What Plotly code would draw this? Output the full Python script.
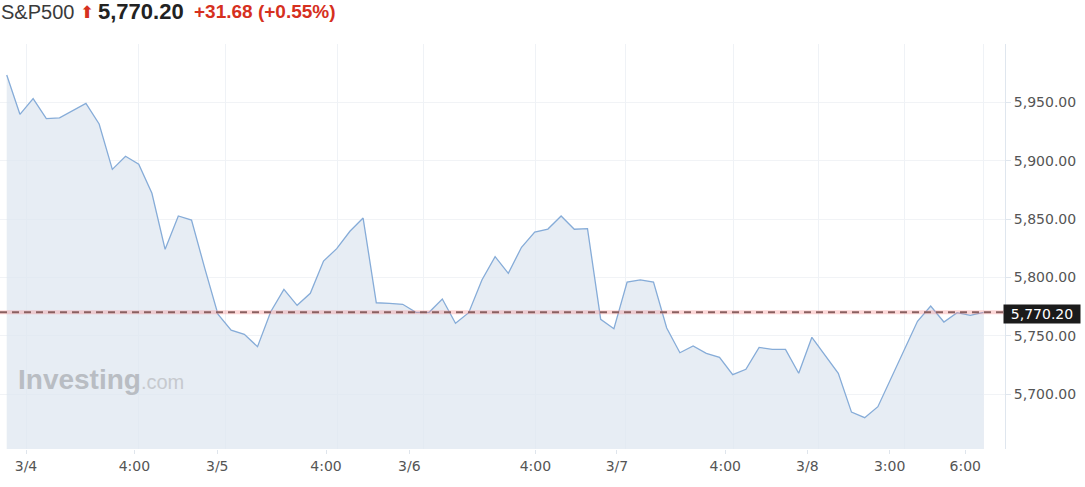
import plotly.graph_objects as go

# ---- data ----
prices = [5973.4, 5939.7, 5953.1, 5936.0, 5936.6, 5942.8, 5949.1, 5931.4, 5892.6, 5903.8,
          5896.9, 5872.1, 5824.1, 5852.7, 5849.2, 5808.1, 5768.7, 5755.0, 5751.4, 5740.8,
          5770.7, 5789.9, 5776.2, 5786.5, 5814.1, 5824.7, 5839.6, 5850.9, 5778.4, 5777.9,
          5777.1, 5770.2, 5770.2, 5781.6, 5760.8, 5769.9, 5797.9, 5817.8, 5803.6, 5825.9,
          5838.9, 5841.5, 5852.7, 5841.3, 5841.8, 5764.2, 5756.2, 5796.1, 5797.9, 5796.1,
          5756.8, 5735.6, 5741.4, 5735.1, 5731.7, 5716.8, 5721.4, 5740.2, 5738.5, 5738.5,
          5718.0, 5748.8, 5733.4, 5718.0, 5684.8, 5680.0, 5689.4, 5713.7, 5737.9, 5762.5,
          5775.6, 5761.9, 5769.9, 5767.6, 5770.2]
x_idx = list(range(len(prices)))

tick_labels = ["3/4", "4:00", "3/5", "4:00", "3/6", "4:00", "3/7", "4:00", "3/8", "3:00", "6:00"]
tick_pos = [1.46, 9.67, 15.95, 24.19, 30.5, 40.05, 46.23, 54.44, 60.65, 66.89, 72.62]
grid_pos = [1.52, 10.0, 16.56, 25.05, 31.56, 40.05, 46.9, 55.05, 61.5, 68.0, 74.0]
y_ticks = [5700, 5750, 5800, 5850, 5900, 5950]

symbol = "S&P500"
last_price = 5770.20
change = 31.68
change_pct = 0.55

fig = go.Figure()
fig.add_trace(go.Scatter(
    x=x_idx, y=prices, mode="lines", fill="tozeroy",
    line=dict(color="#86acd8", width=1.3),
    fillcolor="rgba(222,230,240,0.72)",
    hoverinfo="skip", showlegend=False))
# invisible helper trace so that the grid axis is drawn
fig.add_trace(go.Scatter(x=[x_idx[0]], y=[prices[0]], xaxis="x2", mode="markers",
                         marker=dict(opacity=0), hoverinfo="skip", showlegend=False))

# current price line
fig.add_shape(type="line", xref="paper", x0=0, x1=1, y0=last_price, y1=last_price,
              line=dict(color="rgba(245,140,140,0.35)", width=4))
fig.add_shape(type="line", xref="paper", x0=0, x1=1, y0=last_price, y1=last_price,
              line=dict(color="#8a6060", width=2, dash="7px,5px"))

fig.add_annotation(xref="paper", x=1, y=last_price, xanchor="left", yanchor="middle",
                   text=f"{last_price:,.2f}", showarrow=False, bgcolor="#1b1b1b",
                   font=dict(family="DejaVu Sans", size=14, color="white"),
                   width=72, height=14, borderpad=2, yshift=-1.5, xshift=-2)

# title
ty = 1.08
fig.add_annotation(xref="paper", yref="paper", x=-0.001, y=ty, xanchor="left", yanchor="middle",
                   text=symbol, showarrow=False,
                   font=dict(family="Liberation Sans", size=20, color="#3a3a3a"))
fig.add_annotation(xref="paper", yref="paper", x=78/1005, y=ty, xanchor="left", yanchor="middle",
                   text="⬆", showarrow=False,
                   font=dict(family="DejaVu Sans", size=17, color="#d6301e"))
fig.add_annotation(xref="paper", yref="paper", x=96/1005, y=ty, xanchor="left", yanchor="middle",
                   text=f"<b>{last_price:,.2f}</b>", showarrow=False,
                   font=dict(family="Liberation Sans", size=22, color="#222222"))
fig.add_annotation(xref="paper", yref="paper", x=192/1005, y=ty, xanchor="left", yanchor="middle",
                   text=f"<b>+{change:.2f} (+{change_pct:.2f}%)</b>", showarrow=False,
                   font=dict(family="Liberation Sans", size=19, color="#d6301e"))

# watermark
fig.add_annotation(xref="paper", yref="paper", x=16/1005, y=(449-379)/405, xanchor="left", yanchor="middle",
                   text="<b>Investing</b><span style='font-size:20px;color:#c6c9ce'>.com</span>",
                   showarrow=False,
                   font=dict(family="Liberation Sans", size=28, color="#b9bdc3"))

fig.update_layout(
    width=1085, height=487,
    margin=dict(l=0, r=80, t=44, b=38),
    paper_bgcolor="white", plot_bgcolor="white",
    hovermode=False,
    xaxis=dict(range=[-0.51, 75.63], tickvals=tick_pos, ticktext=tick_labels,
               showgrid=False, zeroline=False, ticks="outside", ticklen=4,
               tickcolor="#dfe5ec", showline=False, automargin=False,
               tickfont=dict(family="DejaVu Sans", size=14, color="#555555")),
    xaxis2=dict(overlaying="x", matches="x", tickvals=grid_pos, showgrid=True,
                gridcolor="#eff2f6", gridwidth=1, showticklabels=False, ticks="",
                zeroline=False, showline=False, automargin=False),
    yaxis=dict(range=[5653.2, 5999.9], side="right", tickvals=y_ticks,
               tickformat=",.2f", showgrid=True, gridcolor="#f1f3f6", zeroline=False,
               showline=True, linecolor="#dfe6ee", ticks="outside", ticklen=5,
               tickcolor="#dfe6ee", automargin=False,
               tickfont=dict(family="DejaVu Sans", size=14, color="#555555")),
)

fig.write_html("out.html", config={"displayModeBar": False},
               post_script="document.body.style.margin='0px';")
